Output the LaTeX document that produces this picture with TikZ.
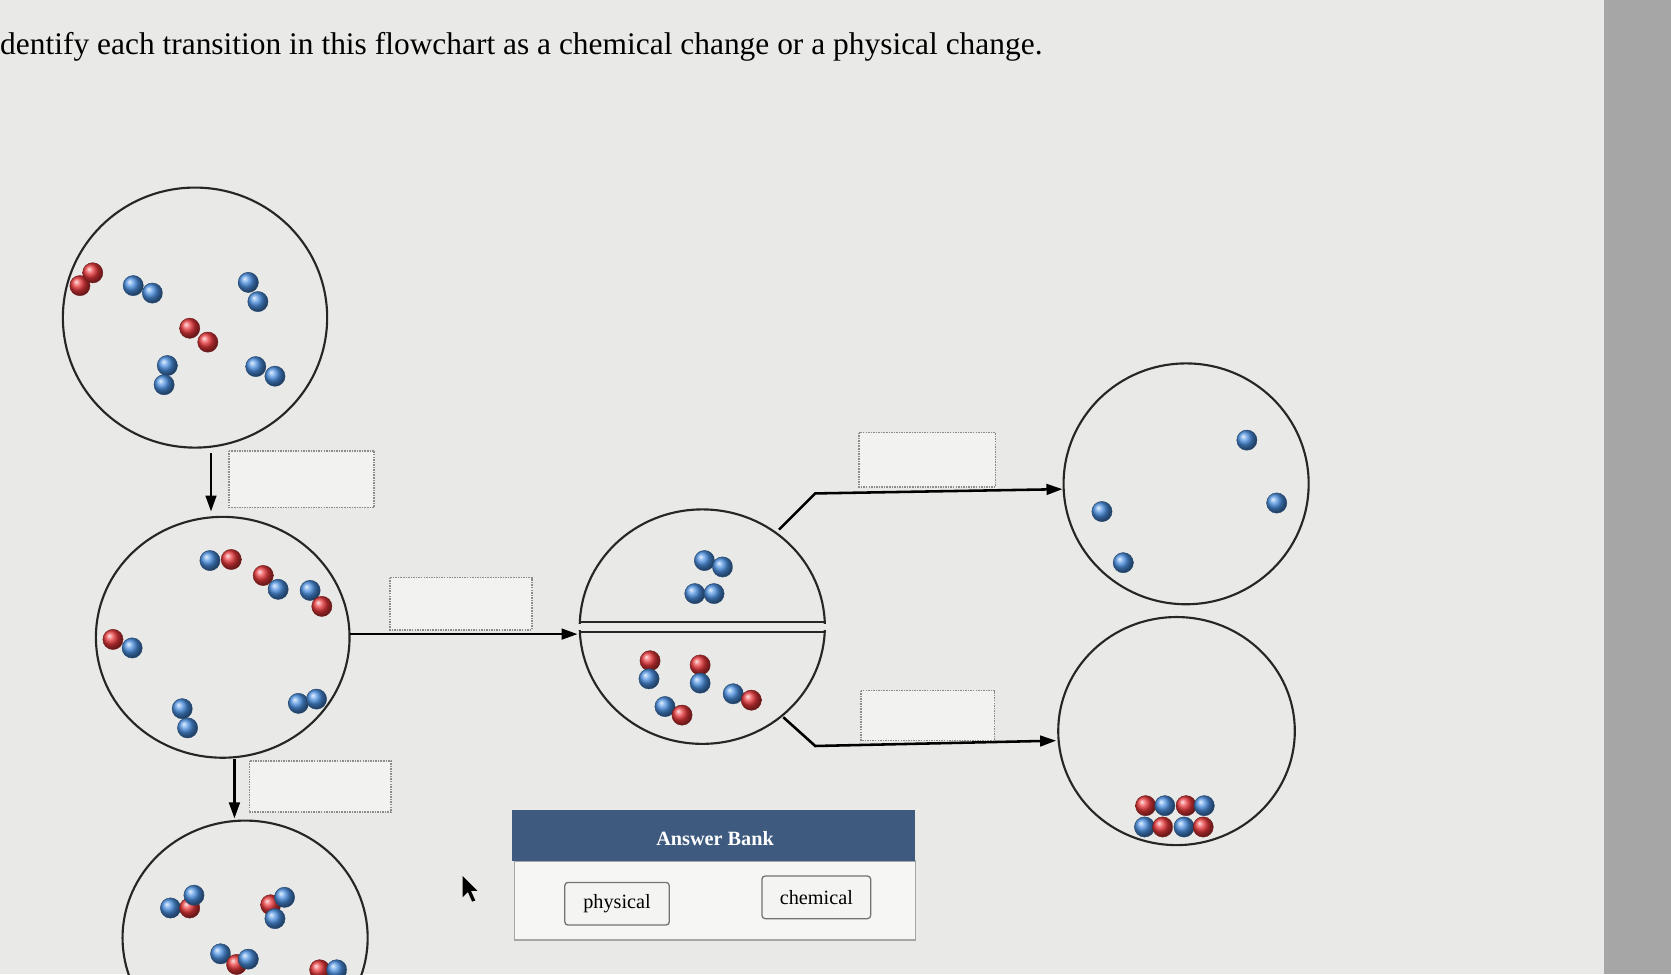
\documentclass[tikz,border=0pt]{standalone}
\usepackage{fontspec}
\setmainfont{Liberation Serif}
\usetikzlibrary{arrows.meta}
\definecolor{bg}{HTML}{E9E9E7}
\definecolor{hdr}{HTML}{3E5A7E}
\definecolor{bl}{HTML}{4A8FE0}
\definecolor{rd}{HTML}{E8373A}
\tikzset{
 vessel/.style={draw=black!85,line width=2pt,fill=bg},
 slot/.style={draw=black!45,densely dotted,line width=1.4pt,fill=bg!60!white},
 flow/.style={draw=black,line width=2.4pt,-{Triangle[length=15pt,width=10pt]}},
 btn/.style={draw=black!55,line width=1.2pt,rounded corners=3pt,fill=bg!50!white,font=\fontsize{19}{22}\selectfont,inner sep=0pt},
}
\newcommand{\B}[2]{\shade[ball color=bl,draw=bl!50!black,line width=0.4pt] (#1,#2) circle (9.5);}
\newcommand{\R}[2]{\shade[ball color=rd,draw=rd!50!black,line width=0.4pt] (#1,#2) circle (9.5);}
\begin{document}
\begin{tikzpicture}[x=1pt,y=-1pt]
\useasboundingbox (0,0) rectangle (1568,914);
\fill[black!35] (0,0) rectangle (1568,914);
\fill[bg] (0,0) rectangle (1505,914);
\node[anchor=west,inner sep=0pt,font=\fontsize{29.5}{32}\selectfont] (title) at (0,44) {dentify each transition in this flowchart as a chemical change or a physical change.};
% circles
\draw[vessel] (183,298) ellipse (124 and 122);
\draw[vessel] (209,598) ellipse (119 and 113);
\draw[vessel] (230,880) ellipse (115 and 110);
\draw[vessel] (1113,454) ellipse (115 and 113);
\draw[vessel] (1104,686) ellipse (111 and 107);
% split circle
\begin{scope}
\clip (500,470) rectangle (800,585);
\draw[vessel] (659,588) ellipse (115 and 110);
\end{scope}
\begin{scope}
\clip (500,592) rectangle (800,710);
\draw[vessel] (659,588) ellipse (115 and 110);
\end{scope}
\draw[black!85,line width=2pt] (544.2,584) -- (773.8,584);
\draw[black!85,line width=2pt] (544.2,593) -- (773.8,593);
% connectors
\coordinate (a1) at (198,425); \coordinate (a2) at (198,480);
\draw[flow] (a1) -- (a2);
\coordinate (b1) at (220,712); \coordinate (b2) at (220,768);
\draw[flow] (b1) -- (b2);
\coordinate (c1) at (328,595); \coordinate (c2) at (542,595);
\draw[flow] (c1) -- (c2);
\coordinate (d1) at (731,497); \coordinate (d2) at (765,463); \coordinate (d3) at (997,459);
\draw[flow] (d1) -- (d2) -- (d3);
\coordinate (e1) at (735,673); \coordinate (e2) at (765,700); \coordinate (e3) at (991,695);
\draw[flow] (e1) -- (e2) -- (e3);
% slots
\draw[slot] (215,423) rectangle (351,476);
\draw[slot] (234,714) rectangle (367,762);
\draw[slot] (366,542) rectangle (499,591);
\draw[slot] (806,406) rectangle (934,457);
\draw[slot] (808,648) rectangle (933,695);
% molecules A
\R{75}{268}\R{87}{256}
\B{125}{268}\B{143}{275}
\B{233}{265}\B{242}{283}
\R{178}{308}\R{195}{321}
\B{157}{343}\B{154}{361}
\B{240}{344}\B{258}{353}
% B
\B{197}{526}\R{217}{525}
\R{247}{540}\B{261}{553}
\B{291}{554}\R{302}{569}
\R{106}{600}\B{124}{608}
\B{171}{665}\B{176}{683}
\B{280}{660}\B{297}{656}
% C
\B{160}{852}\R{178}{852}\B{182}{840}
\R{254}{849}\B{267}{842}\B{258}{862}
\B{207}{895}\R{222}{905}\B{233}{900}
\R{300}{910}\B{316}{910}
% D
\B{661}{526}\B{678}{532}
\B{652}{557}\B{670}{557}
\R{610}{620}\B{609}{637}
\R{657}{624}\B{657}{641}
\B{624}{663}\R{640}{671}
\B{688}{651}\R{705}{657}
% E
\B{1170}{413}\B{1198}{472}\B{1034}{480}\B{1054}{528}
% F
\R{1075}{756}\B{1093}{756}\R{1113}{756}\B{1130}{756}
\B{1074}{776}\R{1091}{776}\B{1111}{776}\R{1129}{776}
% answer bank
\draw[black!35,line width=1.2pt,fill=bg!40!white] (483,808) rectangle (859,882);
\fill[hdr] (480,760) rectangle (859,808);
\node[text=white,font=\bfseries\fontsize{19}{22}\selectfont] (ab) at (671,787) {Answer Bank};
\node[btn,minimum width=98pt,minimum height=40pt] (phys) at (579,848) {physical};
\node[btn,minimum width=102pt,minimum height=40pt] (chem) at (766,842) {chemical};
% cursor
\fill[black] (434,822) -- (434,842) -- (439,837) -- (443,846) -- (446,845) -- (442,836) -- (448,836) -- cycle;
\end{tikzpicture}
\end{document}
